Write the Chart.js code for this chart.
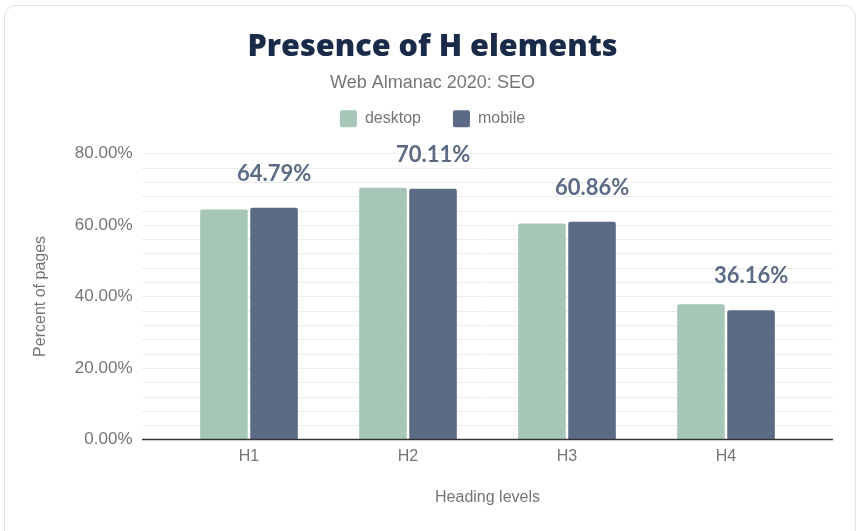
<!DOCTYPE html>
<html>
<head>
<meta charset="utf-8">
<script src="https://cdn.jsdelivr.net/npm/chart.js@4/dist/chart.umd.min.js"></script>
<style>
  html, body { margin: 0; padding: 0; background: #fff; overflow: hidden; }
  #wrap { position: relative; width: 859px; height: 531px; }
  #card { position: absolute; left: 4px; top: 5px; width: 852px; height: 600px; box-sizing: border-box;
          border: 1px solid #e2e2e2; border-radius: 12px; pointer-events: none; }
  canvas { position: absolute; left: 0; top: 0; }
</style>
</head>
<body>
<div id="wrap">
  <canvas id="c" width="859" height="531"></canvas>
  <div id="card"></div>
</div>
<script>
const categories = ['H1', 'H2', 'H3', 'H4'];
const desktopValues = [64.3, 70.4, 60.4, 37.8];
const mobileValues = [64.79, 70.11, 60.86, 36.16];
const seriesNames = ['desktop', 'mobile'];

const DESKTOP_COLOR = '#a6c6b7';
const MOBILE_COLOR = '#5c6b85';
const GRAY = '#757575';
const SANS = "'Liberation Sans', Arial, sans-serif";

const gridPlugin = {
  id: 'extendedGrid',
  beforeDatasetsDraw(chart) {
    const {ctx, chartArea, scales: {y}} = chart;
    const left = chartArea.left - 27.5, right = chartArea.right + 27.5;
    ctx.save();
    ctx.strokeStyle = '#ececec';
    ctx.lineWidth = 1;
    y.ticks.forEach(t => {
      if (t.value === 0) return;
      const py = Math.round(y.getPixelForValue(t.value)) + 0.5;
      ctx.beginPath(); ctx.moveTo(left, py); ctx.lineTo(right, py); ctx.stroke();
    });
    ctx.restore();
  },
  afterDatasetsDraw(chart) {
    const {ctx, chartArea, scales: {y}} = chart;
    const left = chartArea.left - 27.5, right = chartArea.right + 27.5;
    ctx.save();
    ctx.strokeStyle = '#333';
    ctx.lineWidth = 1.5;
    const py = y.getPixelForValue(0);
    ctx.beginPath(); ctx.moveTo(left, py); ctx.lineTo(right, py); ctx.stroke();
    const meta = chart.getDatasetMeta(1);
    ctx.fillStyle = MOBILE_COLOR;
    ctx.font = "bold 22px Lato, 'Open Sans', sans-serif";
    ctx.textAlign = 'center';
    ctx.textBaseline = 'alphabetic';
    meta.data.forEach((el, i) => {
      const v = chart.data.datasets[1].data[i];
      ctx.fillText(v.toFixed(2) + '%', el.x, el.y - 27);
    });
    ctx.restore();
  }
};

new Chart(document.getElementById('c'), {
  type: 'bar',
  data: {
    labels: categories,
    datasets: [
      { label: seriesNames[0], data: desktopValues, backgroundColor: DESKTOP_COLOR,
        categoryPercentage: 0.63, barPercentage: 0.95, borderRadius: 2, borderSkipped: 'start' },
      { label: seriesNames[1], data: mobileValues, backgroundColor: MOBILE_COLOR,
        categoryPercentage: 0.63, barPercentage: 0.95, borderRadius: 2, borderSkipped: 'start' }
    ]
  },
  options: {
    responsive: false,
    animation: false,
    devicePixelRatio: 1,
    layout: { padding: { left: 6, right: 0, top: 0, bottom: 0 } },
    plugins: {
      tooltip: { enabled: false },
      title: {
        display: true,
        text: 'Presence of H elements',
        color: '#1a2b49',
        font: { family: "'Open Sans', Lato, sans-serif", size: 30.6, weight: 800, lineHeight: 1.2 },
        padding: { top: 29, bottom: 0 }
      },
      subtitle: {
        display: true,
        text: 'Web Almanac 2020: SEO',
        color: GRAY,
        font: { family: SANS, size: 18, lineHeight: 1.2 },
        padding: { top: 7, bottom: -16 }
      },
      legend: {
        display: true,
        position: 'top',
        labels: {
          color: GRAY,
          font: { family: SANS, size: 16 },
          boxWidth: 17,
          boxHeight: 17,
          useBorderRadius: true,
          borderRadius: 2,
          padding: 32
        }
      }
    },
    scales: {
      x: {
        grid: { display: false, drawTicks: false },
        border: { display: false },
        ticks: { color: GRAY, font: { family: SANS, size: 16 }, padding: 7 },
        title: { display: true, text: 'Heading levels', color: GRAY,
                 font: { family: SANS, size: 16 }, padding: { top: 0, bottom: 24 } },
        afterFit(scale) { scale.height = 91.5; }
      },
      topSpace: {
        type: 'category',
        position: 'top',
        display: true,
        grid: { display: false, drawTicks: false },
        border: { display: false },
        ticks: { display: false },
        afterFit(scale) { scale.height = 16; }
      },
      y: {
        min: 0, max: 80,
        grid: { display: false, drawTicks: false },
        border: { display: false },
        ticks: {
          stepSize: 4,
          autoSkip: false,
          color: GRAY,
          font: { family: SANS, size: 17 },
          padding: 37,
          callback: v => (v % 20 === 0 ? v.toFixed(2) + '%' : '')
        },
        title: { display: true, text: 'Percent of pages', color: GRAY,
                 font: { family: SANS, size: 16 }, padding: { top: 25, bottom: 0 } },
        afterFit(scale) { scale.width = 163.5; }
      },
      rightSpace: {
        type: 'linear',
        position: 'right',
        display: true,
        grid: { display: false, drawTicks: false },
        border: { display: false },
        ticks: { display: false },
        afterFit(scale) { scale.width = 53.5; }
      }
    }
  },
  plugins: [gridPlugin]
});
</script>
</body>
</html>
